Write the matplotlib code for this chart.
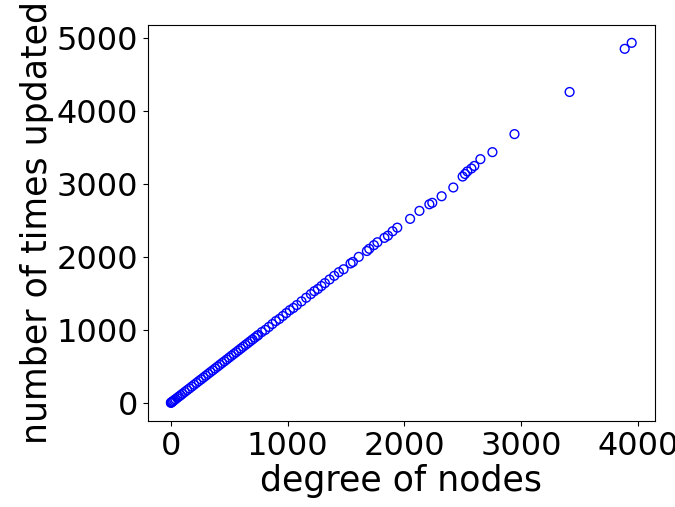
import matplotlib
matplotlib.use("Agg")
import matplotlib.pyplot as plt

degree = [3948, 3888, 3416, 2944, 2755, 2652, 2600, 2575, 2540, 2520, 2500, 2420, 2320, 2240, 2215,
          2130, 2050, 1940, 1900, 1860, 1830, 1770, 1740, 1700, 1680, 1610, 1560, 1540, 1480, 1440,
          1400, 1360, 1320, 1290, 1260, 1230, 1200, 1160, 1120, 1080, 1050, 1020, 990, 960, 930,
          900, 870, 840, 810, 780, 750, 740, 720, 700, 680, 660, 640, 620, 600, 580, 560, 540, 520,
          500, 480, 460, 440, 420, 400, 380, 360, 340, 320, 300, 280, 260, 240, 220, 200, 180, 160,
          140, 120, 100, 85, 70, 55, 40, 30, 20, 12, 6, 3, 1]
updates = [4931, 4849, 4258, 3681, 3434, 3338, 3245, 3210, 3170, 3135, 3100, 2950, 2830, 2740, 2720,
           2630, 2520, 2400, 2350, 2290, 2260, 2200, 2160, 2110, 2080, 2000, 1930, 1910, 1830, 1790,
           1740, 1690, 1640, 1600, 1560, 1530, 1490, 1440, 1390, 1340, 1300, 1270, 1230, 1190, 1150,
           1120, 1080, 1040, 1000, 970, 930, 918, 893, 868, 843, 818, 794, 769, 744, 719, 694, 670, 645,
           620, 595, 570, 546, 521, 496, 471, 446, 422, 397, 372, 347, 322, 298, 273, 248, 223, 198,
           174, 149, 124, 105, 87, 68, 50, 37, 25, 15, 7, 4, 1]

fig = plt.figure(figsize=(6.75, 5.07), dpi=100)
ax = fig.add_axes([0.219, 0.17, 0.751, 0.781])
ax.scatter(degree, updates, facecolors='none', edgecolors='blue', s=40, linewidths=1)
ax.set_xlabel("degree of nodes", fontsize=25, labelpad=2)
ax.set_ylabel("number of times updated", fontsize=25, labelpad=2)
ax.tick_params(labelsize=23)
ax.set_xticks([0, 1000, 2000, 3000, 4000])
ax.set_yticks([0, 1000, 2000, 3000, 4000, 5000])
fig.savefig("out.png")
